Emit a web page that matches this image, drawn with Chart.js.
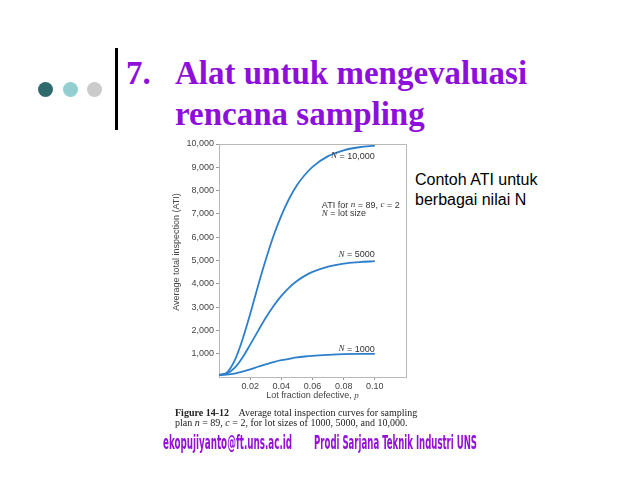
<!DOCTYPE html>
<html>
<head>
<meta charset="utf-8">
<script src="https://cdn.jsdelivr.net/npm/chart.js@4.4.1/dist/chart.umd.min.js"></script>
<style>
  html, body { margin: 0; padding: 0; background: #fff; }
  body { width: 638px; height: 493px; position: relative; overflow: hidden; }
  .dot { position: absolute; width: 15px; height: 15px; border-radius: 50%; top: 82px; }
  .bar { position: absolute; left: 115px; top: 48px; width: 3px; height: 82px; background: #000; }
  .title { position: absolute; font-family: "Liberation Serif", "Times New Roman", serif; font-weight: bold;
           font-size: 33px; line-height: 33px; color: #8e0fdc; white-space: nowrap; }
  .side { position: absolute; left: 415px; font-family: "Liberation Sans", Arial, sans-serif; font-size: 16px;
          line-height: 16px; color: #000; white-space: nowrap; }
  .caption { position: absolute; left: 175px; font-family: "Liberation Serif", "Times New Roman", serif;
             font-size: 10px; line-height: 10px; color: #222; white-space: nowrap; }
  .foot { position: absolute; top: 432px; font-family: "Liberation Sans Narrow", "DejaVu Sans Condensed", sans-serif;
          font-weight: bold; font-size: 20px; line-height: 20px; color: #9410d8; white-space: nowrap; transform-origin: 0 0; }
  #wrap { position: absolute; left: 150px; top: 130px; width: 262px; height: 280px; }
</style>
</head>
<body>
<div class="dot" style="left:38px;background:#2f6b6c"></div>
<div class="dot" style="left:63px;background:#93cfd2"></div>
<div class="dot" style="left:87px;background:#cbcbcb"></div>
<div class="bar"></div>
<div class="title" style="left:126px;top:57px">7.</div>
<div class="title" style="left:175px;top:57px">Alat untuk mengevaluasi</div>
<div class="title" style="left:175px;top:98px">rencana sampling</div>

<div class="side" style="top:172px">Contoh ATI untuk</div>
<div class="side" style="top:192px">berbagai nilai N</div>

<div id="wrap"><canvas id="atiChart" width="262" height="280"></canvas></div>

<div class="caption" style="top:408px"><b>Figure 14-12</b>&nbsp;&nbsp;&nbsp; Average total inspection curves for sampling</div>
<div class="caption" style="top:418px">plan <i>n</i> = 89, <i>c</i> = 2, for lot sizes of 1000, 5000, and 10,000.</div>

<div class="foot" style="left:163px" data-w="129">ekopujiyanto@ft.uns.ac.id</div>
<div class="foot" style="left:314px" data-w="163">Prodi Sarjana Teknik Industri UNS</div>

<script>
// lot fraction defective p
const pValues = [0, 0.005, 0.01, 0.015, 0.02, 0.025, 0.03, 0.035, 0.04, 0.045, 0.05, 0.055, 0.06, 0.07, 0.08, 0.09, 0.10];
// ATI curves
const atiN10000 = [89, 190, 700, 1590, 2700, 3900, 5030, 6060, 6930, 7650, 8230, 8670, 9020, 9480, 9730, 9860, 9930];
const atiN5000 = [89, 140, 390, 830, 1390, 1970, 2540, 3050, 3480, 3840, 4120, 4340, 4510, 4740, 4870, 4930, 4970];
const atiN1000 = [89, 100, 145, 230, 330, 440, 540, 640, 720, 780, 840, 880, 910, 950, 980, 990, 990];
const xTicks = [0.02, 0.04, 0.06, 0.08, 0.10];
const yTicks = [1000, 2000, 3000, 4000, 5000, 6000, 7000, 8000, 9000, 10000];
const curveLabels = ['= 10,000', '= 5000', '= 1000'];

const lineColor = '#2d7fcb';
const sans = '"Liberation Sans", Arial, sans-serif';
const serif = '"Liberation Serif", "Times New Roman", serif';

function pts(ys) {
  return pValues.map((p, i) => ({ x: p, y: ys[i] }));
}

// draws a row of text pieces with different fonts
function drawRuns(ctx, runs, x, y, align) {
  let total = 0;
  runs.forEach(r => { ctx.font = r.f; total += ctx.measureText(r.t).width; });
  let cx = align === 'right' ? x - total : (align === 'center' ? x - total / 2 : x);
  runs.forEach(r => {
    ctx.font = r.f;
    ctx.fillText(r.t, cx, y);
    cx += ctx.measureText(r.t).width;
  });
}

const extrasPlugin = {
  id: 'extras',
  afterDraw(chart) {
    const { ctx, chartArea: a, scales: { x, y } } = chart;
    ctx.save();
    // top and right edge of the frame
    ctx.strokeStyle = '#b8b8b8';
    ctx.lineWidth = 1;
    ctx.beginPath();
    ctx.moveTo(a.left, a.top + 0.5);
    ctx.lineTo(a.right + 0.5, a.top + 0.5);
    ctx.lineTo(a.right + 0.5, a.bottom);
    ctx.stroke();

    ctx.fillStyle = '#333';
    ctx.textBaseline = 'middle';
    const it = 'italic 9px ' + serif;
    const rg = '9px ' + sans;
    drawRuns(ctx, [{ t: 'N', f: it }, { t: ' ' + curveLabels[0], f: rg }], x.getPixelForValue(0.1), y.getPixelForValue(9480), 'right');
    drawRuns(ctx, [{ t: 'N', f: it }, { t: ' ' + curveLabels[1], f: rg }], x.getPixelForValue(0.1), y.getPixelForValue(5240), 'right');
    drawRuns(ctx, [{ t: 'N', f: it }, { t: ' ' + curveLabels[2], f: rg }], x.getPixelForValue(0.1), y.getPixelForValue(1200), 'right');
    drawRuns(ctx, [{ t: 'ATI for ', f: rg }, { t: 'n', f: it }, { t: ' = 89, ', f: rg }, { t: 'c', f: it }, { t: ' = 2', f: rg }],
      x.getPixelForValue(0.066), y.getPixelForValue(7380), 'left');
    drawRuns(ctx, [{ t: 'N', f: it }, { t: ' = lot size', f: rg }], x.getPixelForValue(0.066), y.getPixelForValue(7000), 'left');

    // axis titles
    ctx.fillStyle = '#444';
    drawRuns(ctx, [{ t: 'Lot fraction defective, ', f: rg }, { t: 'p', f: it }], (a.left + a.right) / 2, a.bottom + 19, 'center');
    ctx.translate(27, 122);
    ctx.rotate(-Math.PI / 2);
    ctx.font = rg;
    ctx.textAlign = 'center';
    ctx.fillText('Average total inspection (ATI)', 0, 0);
    ctx.restore();
  }
};

const common = { borderColor: lineColor, borderWidth: 1.8, pointRadius: 0, fill: false, cubicInterpolationMode: 'monotone' };

new Chart(document.getElementById('atiChart'), {
  type: 'line',
  data: {
    datasets: [
      Object.assign({ label: 'N = 10,000', data: pts(atiN10000) }, common),
      Object.assign({ label: 'N = 5000', data: pts(atiN5000) }, common),
      Object.assign({ label: 'N = 1000', data: pts(atiN1000) }, common)
    ]
  },
  options: {
    responsive: false,
    animation: false,
    layout: { padding: { top: 14, right: 6, left: 0, bottom: 0 } },
    plugins: { legend: { display: false }, tooltip: { enabled: false } },
    scales: {
      x: {
        type: 'linear', min: 0, max: 0.12,
        afterBuildTicks: s => { s.ticks = xTicks.map(v => ({ value: v })); },
        afterFit: s => { s.height = 33; },
        ticks: { callback: v => v.toFixed(2), font: { family: sans, size: 9 }, color: '#444', padding: 1, maxRotation: 0 },
        grid: { drawOnChartArea: false, tickLength: 3, color: '#999' },
        border: { color: '#b8b8b8' }
      },
      y: {
        min: 0, max: 10000,
        afterBuildTicks: s => { s.ticks = yTicks.map(v => ({ value: v })); },
        afterFit: s => { s.width = 69; },
        ticks: { callback: v => v.toLocaleString('en-US'), font: { family: sans, size: 9 }, color: '#444', padding: 2 },
        grid: { drawOnChartArea: false, tickLength: 3, color: '#999' },
        border: { color: '#b8b8b8' }
      }
    }
  },
  plugins: [extrasPlugin]
});

// squeeze the footer texts to their width on the slide
document.querySelectorAll('.foot').forEach(el => {
  const w = el.getBoundingClientRect().width;
  el.style.transform = 'scaleX(' + (Number(el.dataset.w) / w) + ')';
});
</script>
</body>
</html>
